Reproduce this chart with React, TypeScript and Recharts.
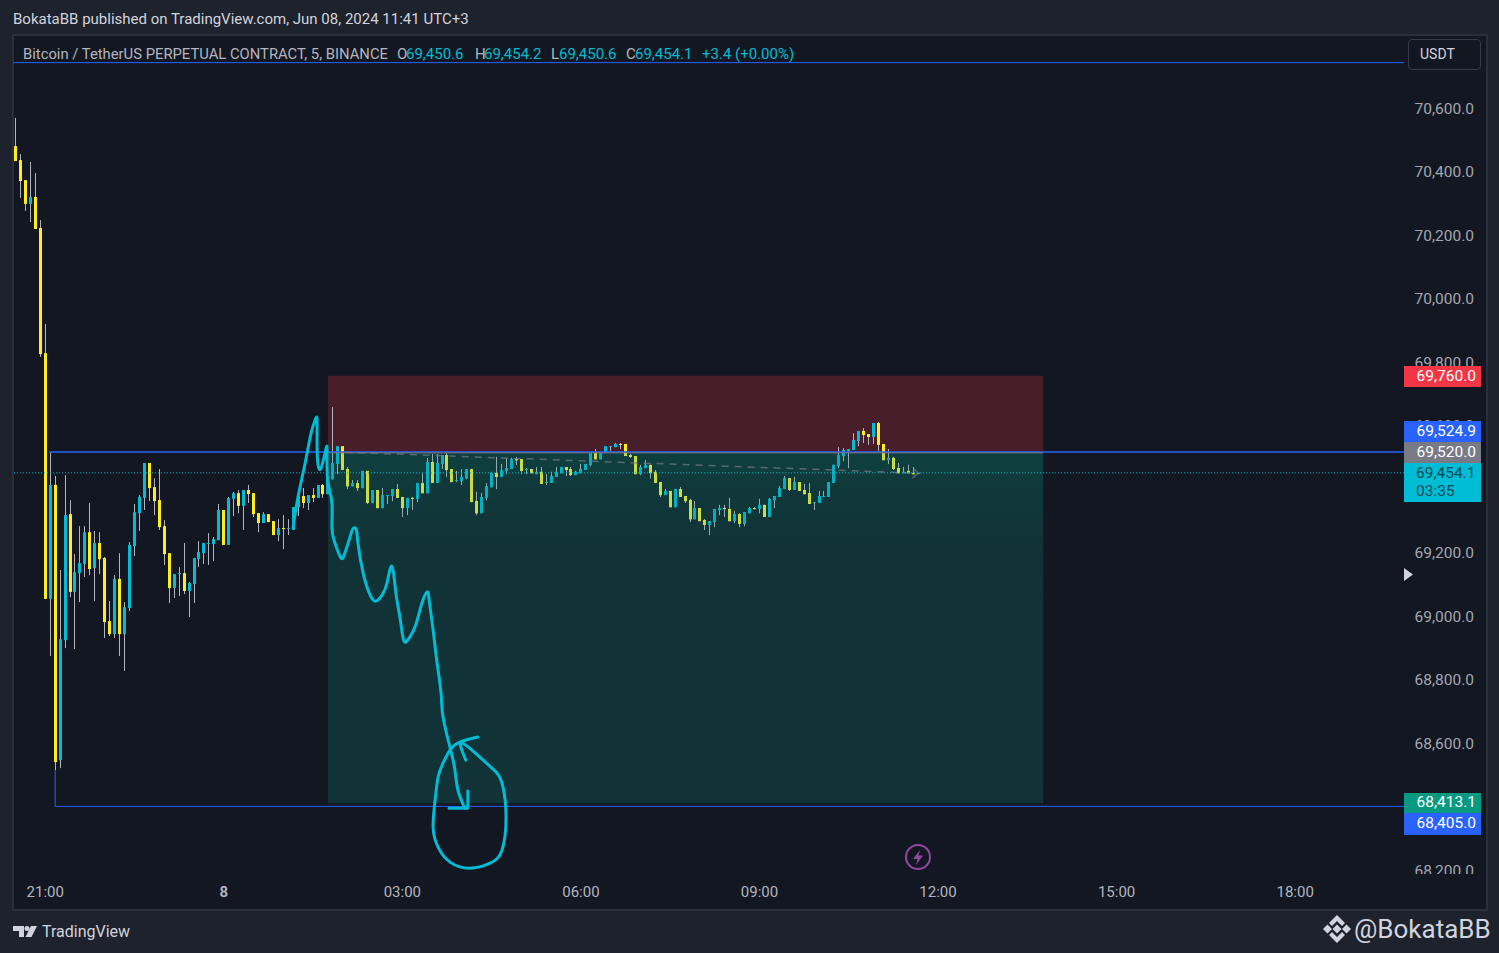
import React from 'react';
import { ComposedChart, XAxis, YAxis, Bar, Line, ReferenceArea, ReferenceLine } from 'recharts';

const opens = [
  70483, 70439, 70376, 70301, 70323, 70225, 69831, 69057, 69416, 68549,
  68927, 69324, 69079, 69138, 69167, 69267, 69154, 69233, 69186, 68987,
  68946, 69120, 68946, 69028, 69223, 69327, 69375, 69485, 69409, 69368,
  69286, 69201, 69091, 69135, 69138, 69082, 69104, 69182, 69201, 69230,
  69230, 69242, 69337, 69227, 69372, 69390, 69350, 69400, 69390, 69327,
  69296, 69324, 69302, 69258, 69280, 69277, 69274, 69346, 69381, 69359,
  69384, 69375, 69416, 69387, 69434, 69482, 69538, 69466, 69412, 69422,
  69406, 69460, 69359, 69400, 69343, 69381, 69381, 69403, 69378, 69343,
  69375, 69372, 69422, 69390, 69488, 69422, 69482, 69510, 69466, 69428,
  69428, 69437, 69466, 69365, 69327, 69375, 69409, 69453, 69441, 69460,
  69466, 69497, 69497, 69463, 69466, 69450, 69457, 69422, 69422, 69441,
  69453, 69472, 69466, 69447, 69453, 69463, 69479, 69516, 69497, 69519,
  69535, 69535, 69545, 69545, 69510, 69507, 69450, 69469, 69479, 69457,
  69425, 69384, 69397, 69346, 69403, 69381, 69368, 69308, 69343, 69305,
  69290, 69299, 69337, 69343, 69340, 69302, 69324, 69293, 69327, 69343,
  69340, 69353, 69315, 69368, 69378, 69403, 69437, 69400, 69425, 69400,
  69390, 69359, 69359, 69378, 69378, 69422, 69475, 69507, 69523, 69526,
  69554, 69586, 69576, 69567, 69611, 69545, 69494, 69501, 69469, 69453,
  69460, 69453, 69451,
];
const highs = [
  70572, 70458, 70376, 70433, 70398, 70250, 69923, 69519, 69444, 69148,
  69447, 69368, 69198, 69286, 69286, 69359, 69271, 69267, 69189, 69050,
  69132, 69201, 69047, 69236, 69356, 69384, 69485, 69485, 69437, 69466,
  69305, 69201, 69135, 69157, 69233, 69110, 69186, 69239, 69233, 69264,
  69252, 69356, 69337, 69378, 69394, 69400, 69400, 69416, 69390, 69327,
  69330, 69324, 69302, 69308, 69321, 69308, 69346, 69381, 69406, 69384,
  69406, 69416, 69419, 69437, 69661, 69538, 69538, 69472, 69431, 69431,
  69460, 69460, 69400, 69400, 69406, 69384, 69403, 69419, 69378, 69375,
  69378, 69422, 69453, 69501, 69513, 69513, 69510, 69516, 69466, 69460,
  69466, 69466, 69466, 69394, 69390, 69422, 69457, 69504, 69482, 69501,
  69501, 69504, 69497, 69469, 69466, 69472, 69472, 69450, 69457, 69472,
  69472, 69472, 69472, 69460, 69482, 69482, 69516, 69529, 69516, 69538,
  69538, 69548, 69548, 69545, 69513, 69507, 69479, 69494, 69479, 69463,
  69425, 69403, 69397, 69403, 69409, 69381, 69372, 69365, 69343, 69308,
  69302, 69340, 69353, 69353, 69375, 69334, 69327, 69330, 69346, 69346,
  69372, 69353, 69375, 69381, 69412, 69444, 69437, 69441, 69425, 69419,
  69422, 69362, 69397, 69397, 69425, 69479, 69535, 69532, 69529, 69579,
  69586, 69595, 69576, 69611, 69614, 69545, 69529, 69504, 69485, 69472,
  69479, 69472, 69454,
];
const lows = [
  70436, 70320, 70279, 70244, 70222, 69819, 69057, 68877, 68518, 68524,
  68902, 69063, 68899, 69047, 69126, 69132, 69050, 69135, 68934, 68940,
  68934, 68877, 68830, 69019, 69192, 69271, 69337, 69365, 69321, 69274,
  69164, 69044, 69060, 69066, 69072, 69000, 69044, 69157, 69167, 69164,
  69176, 69242, 69227, 69227, 69318, 69327, 69274, 69359, 69315, 69267,
  69296, 69299, 69258, 69239, 69214, 69258, 69274, 69318, 69343, 69337,
  69362, 69375, 69375, 69387, 69434, 69450, 69463, 69403, 69412, 69397,
  69406, 69356, 69359, 69343, 69343, 69356, 69365, 69375, 69315, 69321,
  69337, 69362, 69390, 69390, 69422, 69422, 69466, 69441, 69425, 69425,
  69416, 69434, 69362, 69321, 69327, 69368, 69409, 69403, 69441, 69450,
  69466, 69479, 69450, 69450, 69453, 69450, 69419, 69416, 69422, 69441,
  69453, 69444, 69444, 69447, 69453, 69463, 69475, 69497, 69497, 69519,
  69523, 69535, 69529, 69507, 69501, 69450, 69447, 69469, 69437, 69422,
  69378, 69384, 69346, 69346, 69378, 69359, 69299, 69308, 69302, 69274,
  69258, 69283, 69321, 69315, 69302, 69296, 69283, 69286, 69327, 69340,
  69327, 69315, 69315, 69343, 69378, 69403, 69397, 69400, 69397, 69387,
  69356, 69337, 69359, 69378, 69378, 69422, 69469, 69491, 69469, 69526,
  69538, 69548, 69542, 69545, 69523, 69494, 69482, 69463, 69453, 69453,
  69453, 69450, 69450,
];
const closes = [
  70436, 70373, 70301, 70323, 70222, 69828, 69057, 69416, 68543, 68930,
  69321, 69079, 69141, 69170, 69267, 69151, 69233, 69182, 68984, 68946,
  69120, 68946, 69031, 69227, 69330, 69378, 69485, 69406, 69365, 69283,
  69198, 69091, 69135, 69138, 69082, 69107, 69186, 69205, 69233, 69233,
  69245, 69337, 69227, 69375, 69390, 69350, 69400, 69387, 69324, 69296,
  69324, 69299, 69258, 69280, 69277, 69280, 69346, 69381, 69359, 69384,
  69375, 69416, 69387, 69437, 69485, 69538, 69463, 69412, 69422, 69406,
  69460, 69359, 69400, 69343, 69384, 69384, 69403, 69375, 69343, 69375,
  69372, 69422, 69390, 69488, 69422, 69485, 69510, 69463, 69425, 69431,
  69441, 69466, 69362, 69327, 69378, 69412, 69453, 69441, 69463, 69469,
  69497, 69494, 69460, 69466, 69453, 69457, 69419, 69425, 69444, 69457,
  69472, 69463, 69447, 69457, 69466, 69482, 69516, 69497, 69516, 69538,
  69538, 69545, 69542, 69507, 69504, 69450, 69472, 69479, 69453, 69422,
  69384, 69397, 69346, 69403, 69378, 69365, 69308, 69343, 69302, 69290,
  69302, 69340, 69343, 69340, 69302, 69324, 69293, 69330, 69343, 69340,
  69353, 69315, 69372, 69381, 69406, 69437, 69400, 69425, 69397, 69387,
  69356, 69362, 69381, 69381, 69425, 69479, 69510, 69526, 69529, 69557,
  69586, 69573, 69567, 69611, 69542, 69494, 69501, 69466, 69453, 69457,
  69453, 69450, 69454,
];

const candles = opens.map((open, i) => ({
  i,
  open,
  high: highs[i],
  low: lows[i],
  close: closes[i],
}));

// hand drawn strokes, bar index + price
const scribble = [
  { i: 55.95, p: 69280 }, { i: 56.96, p: 69378 }, { i: 58.4, p: 69485 }, { i: 59.6, p: 69579 },
  { i: 60.4, p: 69620 }, { i: 60.8, p: 69623 }, { i: 60.8, p: 69548 }, { i: 61.0, p: 69479 },
  { i: 61.6, p: 69469 }, { i: 62.4, p: 69516 }, { i: 62.8, p: 69538 }, { i: 62.8, p: 69504 },
  { i: 63.0, p: 69425 }, { i: 63.8, p: 69359 }, { i: 63.8, p: 69280 }, { i: 64.4, p: 69233 },
  { i: 65.6, p: 69186 }, { i: 66.4, p: 69201 }, { i: 67.4, p: 69249 }, { i: 68.0, p: 69277 },
  { i: 68.7, p: 69277 }, { i: 69.05, p: 69233 }, { i: 70.1, p: 69138 }, { i: 71.5, p: 69069 },
  { i: 72.7, p: 69050 }, { i: 73.9, p: 69069 }, { i: 74.9, p: 69107 }, { i: 75.9, p: 69160 },
  { i: 76.7, p: 69075 }, { i: 77.5, p: 69000 }, { i: 78.1, p: 68937 }, { i: 78.7, p: 68921 },
  { i: 79.5, p: 68937 }, { i: 80.7, p: 68975 }, { i: 81.95, p: 69044 }, { i: 83.0, p: 69079 },
  { i: 83.4, p: 69053 }, { i: 84.2, p: 68959 }, { i: 85.0, p: 68855 }, { i: 85.8, p: 68760 },
  { i: 86.2, p: 68685 }, { i: 87.6, p: 68590 }, { i: 88.6, p: 68518 }, { i: 89.2, p: 68455 },
  { i: 90.6, p: 68398 },
];
const scribbleArrow = [
  { i: 87.4, p: 68398 }, { i: 91.2, p: 68398 }, { i: 91.2, p: 68452 },
];
const scribbleCircle = [
  { i: 93.2, p: 68622 }, { i: 89.6, p: 68606 }, { i: 87.6, p: 68581 }, { i: 86.2, p: 68540 },
  { i: 85.2, p: 68496 }, { i: 84.6, p: 68423 }, { i: 84.2, p: 68338 }, { i: 85.2, p: 68275 },
  { i: 87.6, p: 68228 }, { i: 91.6, p: 68209 }, { i: 95.7, p: 68225 }, { i: 98.1, p: 68266 },
  { i: 98.9, p: 68370 }, { i: 98.3, p: 68464 }, { i: 97.1, p: 68508 }, { i: 94.3, p: 68549 },
  { i: 90.0, p: 68603 }, { i: 90.8, p: 68549 },
];

const priceTicks = [68200, 68600, 68800, 69000, 69200, 69600, 69800, 70000, 70200, 70400, 70600];
const timeTicks = [6, 42, 78, 114, 150, 186, 222, 258];
const timeLabels = ['21:00', '8', '03:00', '06:00', '09:00', '12:00', '15:00', '18:00'];

const BG = '#131722';
const FRAME = '#2a2e39';
const OUTER = '#1e222d';
const TEAL = '#00bcd4';
const YELLOW = '#ffee1a';
const BLUE = '#2962ff';
const FONT = 'Roboto, sans-serif';

const xMin = -0.5;
const xMax = 279.94;

const ENTRY = 69520;
const BOX_START = 63;
const BOX_END = 207.2;

// same candle seen through the green box
const TINT_TEAL = '#02b0c1';
const TINT_YELLOW = '#c9dd40';
const TINT_WICK = '#93abb0';

function Candle(props: any) {
  const { x, y, width, height, payload } = props;
  const { i, open, close, high, low } = payload;
  const perPrice = height / (high - low || 1);
  // body is 3px with a 1px wick in the middle
  const left = Math.round(x + width / 2 - 1.5);
  const bodyTop = y + (high - Math.max(open, close)) * perPrice;
  const bodyH = Math.max(Math.abs(open - close) * perPrice, 1);
  const up = close >= open;
  const color = up ? TEAL : YELLOW;
  const inBox = i >= BOX_START && i <= BOX_END;
  if (!inBox) {
    return (
      <g>
        <rect x={left + 1} y={y} width={1} height={height} fill="#b2b5be" />
        <rect x={left} y={bodyTop} width={3} height={bodyH} fill={color} />
      </g>
    );
  }
  // part under the entry price is covered by the box
  const split = y + (high - ENTRY) * perPrice;
  const wickFrom = Math.max(y, split);
  const tintFrom = Math.max(bodyTop, split);
  const tintH = bodyTop + bodyH - tintFrom;
  return (
    <g>
      <rect x={left + 1} y={y} width={1} height={height} fill="#b2b5be" />
      {y + height > wickFrom && (
        <rect x={left + 1} y={wickFrom} width={1} height={y + height - wickFrom} fill={TINT_WICK} />
      )}
      <rect x={left} y={bodyTop} width={3} height={bodyH} fill={color} />
      {tintH > 0 && <rect x={left} y={tintFrom} width={3} height={tintH} fill={up ? TINT_TEAL : TINT_YELLOW} />}
    </g>
  );
}

function PriceTick(props: any) {
  const { y, payload } = props;
  const label = payload.value.toLocaleString('en-US', { minimumFractionDigits: 1 });
  return (
    <g>
      <text x={1474} y={y} textAnchor="end" dominantBaseline="central" fontSize={15.5} fontFamily={FONT} fill="#a3a6af">
        {label}
      </text>
      {payload.value === 68200 && <rect x={1405} y={874} width={78} height={10} fill={BG} />}
    </g>
  );
}

function TimeTick(props: any) {
  const { x, y, payload } = props;
  const label = timeLabels[timeTicks.indexOf(payload.value)];
  return (
    <text
      x={x}
      y={y}
      textAnchor="middle"
      dominantBaseline="central"
      fontSize={15}
      fontFamily={FONT}
      fontWeight={label === '8' ? 700 : 400}
      fill="#b2b5be"
    >
      {label}
    </text>
  );
}

const priceTags = [
  { text: '69,760.0', top: 366, height: 21, bg: '#f23645' },
  { text: '69,524.9', top: 421, height: 21, bg: BLUE },
  { text: '69,520.0', top: 442, height: 21, bg: '#787b86' },
  { text: '68,413.1', top: 793, height: 20, bg: '#089981' },
  { text: '68,405.0', top: 813, height: 22, bg: BLUE },
];

const legendParts = [
  { text: 'Bitcoin / TetherUS PERPETUAL CONTRACT, 5, BINANCE', left: 23, color: '#b2b5be', size: 14.8 },
  { text: 'O', left: 397, color: '#b2b5be', size: 15 },
  { text: '69,450.6', left: 406, color: TEAL, size: 15 },
  { text: 'H', left: 475, color: '#b2b5be', size: 15 },
  { text: '69,454.2', left: 484, color: TEAL, size: 15 },
  { text: 'L', left: 551, color: '#b2b5be', size: 15 },
  { text: '69,450.6', left: 559, color: TEAL, size: 15 },
  { text: 'C', left: 626, color: '#b2b5be', size: 15 },
  { text: '69,454.1', left: 635, color: TEAL, size: 15 },
  { text: '+3.4 (+0.00%)', left: 702, color: TEAL, size: 15 },
];

const abs = (left: number, top: number): React.CSSProperties => ({ position: 'absolute', left, top });

export default function App() {
  return (
    <div style={{ position: 'relative', width: 1499, height: 953, background: OUTER, overflow: 'hidden', fontFamily: FONT }}>
      <style>{'body{margin:0}'}</style>

      <div style={{ ...abs(12, 34), width: 1472, height: 873, background: BG, border: `2px solid ${FRAME}` }} />

      <div style={abs(0, 0)}>
        <ComposedChart width={1499} height={953} data={candles} margin={{ top: 35, right: 0, bottom: 45, left: 13 }}>
          <defs>
            <linearGradient id="profitFill" x1="0" y1="0" x2="0" y2="1">
              <stop offset="0" stopColor="#089981" stopOpacity={0.3} />
              <stop offset="0.06" stopColor="#089981" stopOpacity={0.3} />
              <stop offset="0.06" stopColor="#089981" stopOpacity={0.27} />
              <stop offset="0.28" stopColor="#089981" stopOpacity={0.21} />
              <stop offset="1" stopColor="#0d9a88" stopOpacity={0.21} />
            </linearGradient>
          </defs>
          <XAxis
            dataKey="i"
            type="number"
            domain={[xMin, xMax]}
            ticks={timeTicks}
            interval={0}
            allowDataOverflow
            height={33}
            axisLine={false}
            tickLine={false}
            tick={<TimeTick />}
            tickMargin={11}
          />
          <YAxis
            orientation="right"
            type="number"
            domain={[68187.4, 70833]}
            ticks={priceTicks}
            interval={0}
            allowDataOverflow
            width={95}
            axisLine={false}
            tickLine={false}
            tick={<PriceTick />}
          />

          <ReferenceArea x1={BOX_START} x2={BOX_END} y1={ENTRY} y2={69760} fill="#f23645" fillOpacity={0.24} stroke="none" />

          <ReferenceLine y={70746} stroke={BLUE} strokeWidth={1} />
          <ReferenceLine segment={[{ x: 6.8, y: ENTRY }, { x: xMax, y: ENTRY }]} stroke={BLUE} strokeWidth={1.5} />
          <ReferenceLine segment={[{ x: 8, y: 68403.5 }, { x: xMax, y: 68403.5 }]} stroke={BLUE} strokeWidth={1} />
          <ReferenceLine segment={[{ x: 8, y: 68518 }, { x: 8, y: 68403.5 }]} stroke={BLUE} strokeWidth={1} />
          <ReferenceLine y={69454} stroke={TEAL} strokeWidth={1} strokeDasharray="1 2" />

          <Bar dataKey={(d: any) => [d.low, d.high]} barSize={3} shape={<Candle />} isAnimationActive={false} />

          <ReferenceArea x1={BOX_START} x2={BOX_END} y1={68413.1} y2={ENTRY} fill="url(#profitFill)" fillOpacity={1} stroke="none" />
          <ReferenceLine segment={[{ x: BOX_START, y: 69517 }, { x: BOX_END, y: 69517 }]} stroke="#787b86" strokeWidth={1} />

          <ReferenceLine segment={[{ x: 66.4, y: 69519 }, { x: 182, y: 69453 }]} stroke="#787b86" strokeOpacity={0.7} strokeWidth={1.5} strokeDasharray="7 6" />
          <ReferenceLine segment={[{ x: 181.2, y: 69466 }, { x: 182, y: 69453 }]} stroke="#787b86" strokeOpacity={0.7} strokeWidth={1.5} />
          <ReferenceLine segment={[{ x: 182, y: 69453 }, { x: 180.8, y: 69437 }]} stroke="#787b86" strokeOpacity={0.7} strokeWidth={1.5} />

          {[scribble, scribbleArrow, scribbleCircle].map((stroke, n) => (
            <Line
              key={n}
              data={stroke}
              dataKey="p"
              type={n === 1 ? 'linear' : 'natural'}
              stroke={TEAL}
              strokeWidth={3}
              strokeLinejoin="round"
              strokeLinecap="round"
              dot={false}
              activeDot={false}
              isAnimationActive={false}
            />
          ))}
        </ComposedChart>
      </div>

      {/* header + legend */}
      <div style={{ ...abs(13, 10), fontSize: 15, color: '#d1d4dc', whiteSpace: 'nowrap' }}>
        BokataBB published on TradingView.com, Jun 08, 2024 11:41 UTC+3
      </div>
      {legendParts.map((part, n) => (
        <div key={n} style={{ ...abs(part.left, 45), fontSize: part.size, color: part.color, whiteSpace: 'nowrap' }}>
          {part.text}
        </div>
      ))}

      <div
        style={{
          ...abs(1408, 39),
          width: 73,
          height: 31,
          border: '1px solid #363a45',
          borderRadius: 4,
          background: BG,
          color: '#d1d4dc',
          fontSize: 14,
          lineHeight: '29px',
          paddingLeft: 11,
          boxSizing: 'border-box',
        }}
      >
        USDT
      </div>

      {/* price tags */}
      {priceTags.map((tag) => (
        <div
          key={tag.text}
          style={{
            ...abs(1404, tag.top),
            width: 77,
            height: tag.height,
            background: tag.bg,
            color: '#fff',
            fontSize: 15.5,
            lineHeight: `${tag.height - 1}px`,
            textAlign: 'right',
            boxSizing: 'border-box',
          }}
        >
          <span style={{ marginRight: 5 }}>{tag.text}</span>
        </div>
      ))}
      <div style={{ ...abs(1404, 463), width: 77, height: 39, background: TEAL, color: '#0b4a55', fontSize: 15.5, lineHeight: '18px' }}>
        <div style={{ marginLeft: 12, marginTop: 1 }}>69,454.1</div>
        <div style={{ marginLeft: 12 }}>03:35</div>
      </div>

      {/* scale arrow, lightning badge, logos */}
      <svg style={abs(0, 0)} width={1499} height={953} pointerEvents="none">
        <polygon points="1404,568 1413,574.5 1404,581" fill="#d1d4dc" />
        <circle cx={918} cy={857} r={12} fill="none" stroke="#8e4a9e" strokeWidth={2} />
        <polygon points="920,850 913,859 917.5,859 916,865 923,855.5 918.5,855.5" fill="#8e4a9e" />
        <g fill="#d1d4dc">
          <path d="M13 926 H24 V937 H19 V931 H13 Z" />
          <circle cx={27} cy={928.5} r={2.5} />
          <path d="M31 926 H37 L31.5 937 H25.5 Z" />
        </g>
        <g fill="#d1d4dc">
          <polygon points="1337,924.5 1341.5,929 1337,933.5 1332.5,929" />
          <polygon points="1327.5,924.5 1332,929 1327.5,933.5 1323,929" />
          <polygon points="1346.5,924.5 1351,929 1346.5,933.5 1342,929" />
          <polygon points="1337,915 1345,923 1342,926 1337,921 1332,926 1329,923" />
          <polygon points="1337,943 1345,935 1342,932 1337,937 1332,932 1329,935" />
        </g>
      </svg>
      <div style={{ ...abs(42, 922), fontSize: 16, fontWeight: 400, color: '#d1d4dc' }}>TradingView</div>
      <div style={{ ...abs(1354, 914), fontSize: 26, color: '#d1d4dc', whiteSpace: 'nowrap' }}>@BokataBB</div>
    </div>
  );
}
